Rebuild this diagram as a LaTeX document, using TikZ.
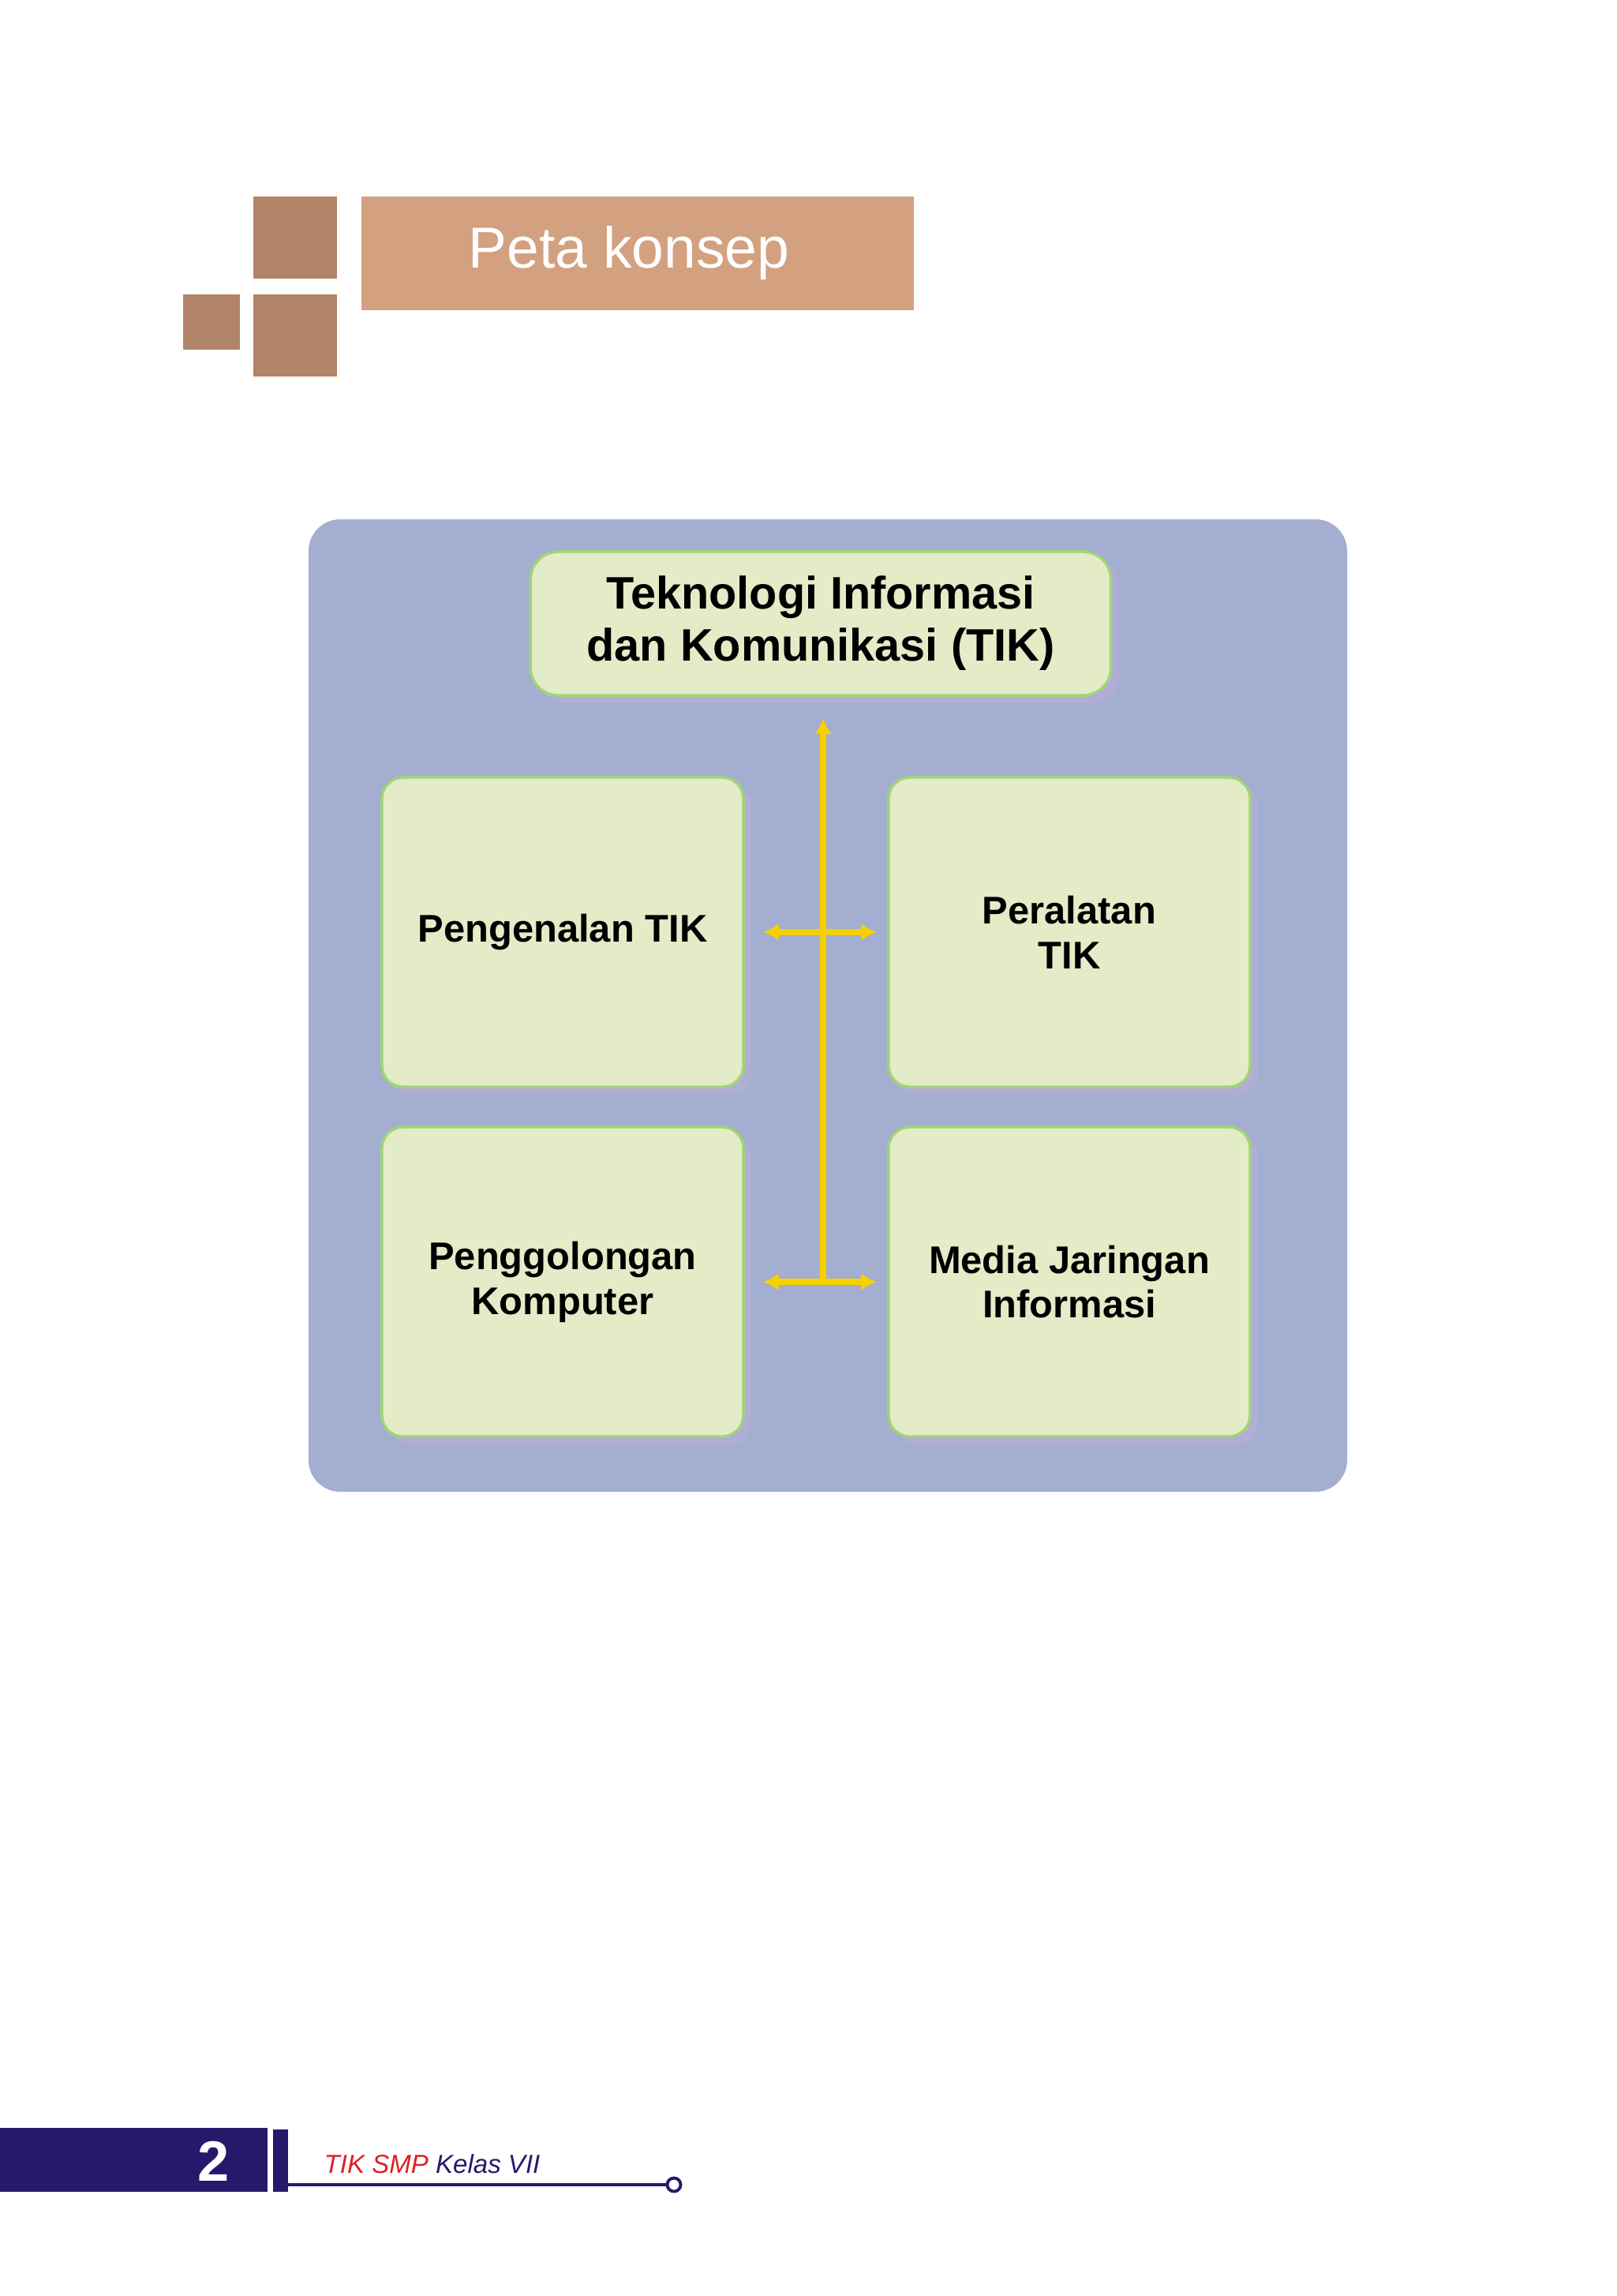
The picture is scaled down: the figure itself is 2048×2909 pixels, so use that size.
\documentclass[tikz,border=0pt]{standalone}
\usepackage{fontspec}
\setmainfont{Liberation Sans}
\usetikzlibrary{arrows.meta,shadows}
\definecolor{bgblue}{RGB}{163,174,208}
\definecolor{boxfill}{RGB}{228,235,199}
\definecolor{boxline}{RGB}{160,212,120}
\definecolor{arrowyellow}{RGB}{247,208,0}
\definecolor{brownsq}{RGB}{178,132,104}
\definecolor{brownbar}{RGB}{211,161,128}
\definecolor{navy}{RGB}{37,25,108}
\definecolor{footred}{RGB}{222,32,36}
\definecolor{glow}{RGB}{180,174,214}

\begin{document}
\begin{tikzpicture}[x=0.01cm, y=-0.01cm,
    topic/.style={draw=boxline, line width=1pt, fill=boxfill, rounded corners=0.27cm,
      minimum width=4.58cm, minimum height=3.92cm, align=center,
      font=\fontsize{13.9}{16.2}\selectfont\bfseries,
      drop shadow={shadow xshift=0.1cm, shadow yshift=-0.1cm, fill=glow, opacity=0.8}},
    maintopic/.style={topic, rounded corners=0.35cm, minimum width=7.35cm, minimum height=1.82cm,
      font=\fontsize{16.4}{18.8}\selectfont\bfseries},
    link/.style={draw=arrowyellow, line width=2.2pt},
    tip/.style={-{Latex[length=0.2cm,width=0.22cm]}},
    tips/.style={{Latex[length=0.2cm,width=0.22cm]}-{Latex[length=0.2cm,width=0.22cm]}}]
    \useasboundingbox[fill=white] (0,0) rectangle (2048,2909);

    \fill[brownsq] (321,249) rectangle (427,353);
    \fill[brownsq] (232,373) rectangle (304,443);
    \fill[brownsq] (321,373) rectangle (427,477);
    \fill[brownbar] (458,249) rectangle (1158,393);
    \node[anchor=base, text=white, font=\fontsize{20.8}{24}\selectfont] (title) at (797,340) {Peta konsep};

    \fill[bgblue, rounded corners=0.4cm] (391,658) rectangle (1707,1890);

    \node[maintopic] (tik) at (1040,790) {Teknologi Informasi\\dan Komunikasi (TIK)};
    \node[topic] (kenal) at (713,1181) {Pengenalan TIK};
    \node[topic] (alat) at (1355,1181) {Peralatan\\TIK};
    \node[topic] (golong) at (713,1624) {Penggolongan\\Komputer};
    \node[topic] (media) at (1355,1624) {Media Jaringan\\Informasi};

    \coordinate (jbot) at (1043,1624);
    \draw[link, tip, shorten >=0.27cm] (jbot) -- (jbot |- tik.south);
    \draw[link, tips, shorten <=0.23cm, shorten >=0.13cm] (kenal) -- (alat);
    \draw[link, tips, shorten <=0.23cm, shorten >=0.13cm] (golong) -- (media);

    \fill[navy] (0,2696) rectangle (339,2777);
    \fill[navy] (346,2698) rectangle (365,2777);
    \node[anchor=base, text=white, font=\fontsize{20.5}{24}\selectfont\bfseries] (page) at (271,2763) {2};
    \node[anchor=base west, inner sep=0pt, font=\fontsize{9.4}{12}\selectfont\itshape] (book) at (410,2753)
      {\textcolor{footred}{TIK SMP} \textcolor{navy}{Kelas VII}};
    \node[draw=navy, line width=1.1pt, fill=white, circle, minimum size=0.17cm, inner sep=0pt] (dot) at (854,2768) {};
    \draw[navy, line width=1.1pt] (365,2768) -- (dot);
  \end{tikzpicture}
\end{document}
